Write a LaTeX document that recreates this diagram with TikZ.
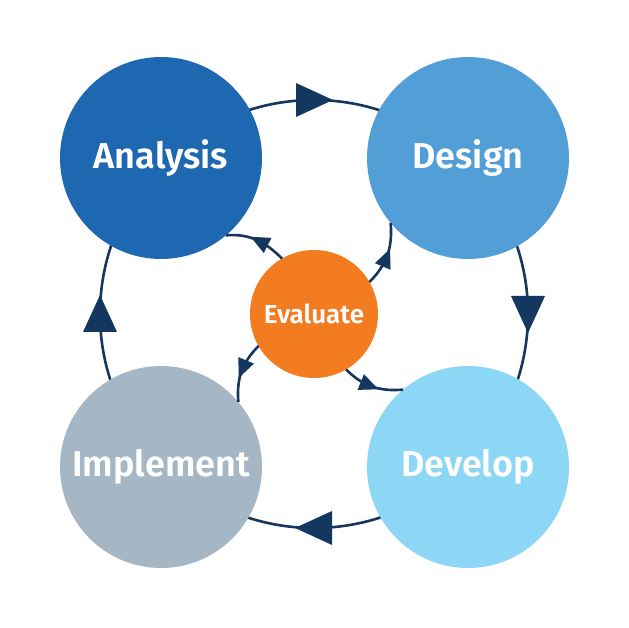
\documentclass[tikz,border=0pt]{standalone}
\usepackage{fontspec}
\setmainfont{Fira Sans}[BoldFont={Fira Sans SemiBold}]
\usepackage{tikz}
\usetikzlibrary{arrows.meta,positioning,calc,decorations.markings}
\pgfdeclarelayer{bg}
\pgfsetlayers{bg,main}
\definecolor{anacol}{HTML}{1E67B1}
\definecolor{descol}{HTML}{529ED6}
\definecolor{devcol}{HTML}{8CD7F5}
\definecolor{impcol}{HTML}{A5B6C4}
\definecolor{evacol}{HTML}{F37B20}
\definecolor{ringcol}{HTML}{13375E}
\tikzset{
  phase/.style={circle, minimum size=202pt, inner sep=0pt, outer sep=0pt, text=white,
    font=\fontsize{36}{36}\selectfont\bfseries},
  ring/.style={draw=ringcol, line width=2.6pt},
  back/.style={ring, postaction={decorate}, decoration={markings,
    mark=at position 0.45 with {\fill [ringcol] (10pt,0pt) -- (-9pt,8.5pt) -- (-9pt,-8.5pt) -- cycle;}}}
}

\begin{document}
\begin{tikzpicture}[x=1pt,y=1pt]
    \useasboundingbox (0,0) rectangle (629,628);

    \node [phase, fill=anacol] (ana) at (161,470) {Analysis};
    \node [phase, fill=descol] (des) at (468,470) {Design};
    \node [phase, fill=impcol] (imp) at (161,161) {Implement};
    \node [phase, fill=devcol] (dev) at (468,161) {Develop};
    \node [phase, fill=evacol, minimum size=128pt,
      font=\fontsize{26}{26}\selectfont\bfseries] (eva) at (314,314) {Evaluate};

    \begin{pgfonlayer}{bg}    % ring behind the circles
        \draw [ring] (eva.center) circle [radius=214];
    \end{pgfonlayer}
    \foreach \a in {0,-90,-180,-270}
        \fill [ringcol, rotate around={\a:(eva.center)}] (296,545) -- (333,528) -- (296,511) -- cycle;

    \draw [back] (eva.120) to [out=135,in=5] (ana.-50);
    \draw [back] (eva.30) to [out=45,in=-85] (des.220);
    \draw [back] (eva.300) to [out=315,in=185] (dev.130);
    \draw [back] (eva.210) to [out=225,in=95] (imp.40);
\end{tikzpicture}
\end{document}
